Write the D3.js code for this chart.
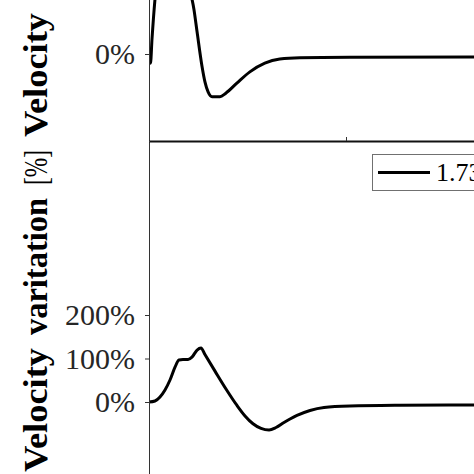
<html>
<script src="https://d3js.org/d3.v7.min.js"></script>
<style>
  body { margin: 0; background: white; }
  text { font-family: "Liberation Serif", serif; }
</style>
<body>
<svg width="474" height="474"></svg>
<script>
// time values (fraction of the cycle) and velocity variation in %
var tTop   = [0, 0.0038, 0.0076, 0.0152, 0.0279, 0.0482, 0.0685, 0.0888, 0.104, 0.114, 0.122, 0.1345, 0.142, 0.150, 0.160, 0.180, 0.195, 0.223, 0.256, 0.294, 0.332, 0.383, 0.510, 0.825, 1];
var vTop   = [-5, -21, 34, 126, 218, 287, 299, 241, 149, 103, 51, -28, -64, -87, -98, -98, -90, -67, -41, -21, -11.5, -8.5, -7.4, -6.9, -6.9];
var tBot   = [0, 0.0152, 0.0279, 0.0406, 0.0533, 0.066, 0.0761, 0.0863, 0.099, 0.109, 0.122, 0.132, 0.142, 0.1675, 0.1954, 0.2234, 0.2437, 0.264, 0.2843, 0.3046, 0.3223, 0.3426, 0.3579, 0.3756, 0.4086, 0.4442, 0.510, 0.637, 0.825, 1];
var vBot   = [0, 2.3, 11.5, 27.6, 50.6, 80, 96.5, 97.7, 97.7, 103, 119.5, 124, 109, 71, 30, -8, -32, -50, -60.7, -64.4, -58.6, -47.1, -39.1, -31, -19.5, -12.6, -9.2, -7.6, -6.9, -6.9];
var topTicks = [0];
var botTicks = [0, 100, 200];
var xTicks = [0.5];
var legendLabel = "1.73 m/s";
var labelWords = ["Velocity", "varitation"];

var svg = d3.select("svg");
var left = 149, split = 141;

var xs = d3.scaleLinear().domain([0, 1]).range([left, left + 394]);
var yTop = d3.scaleLinear().domain([-200, 200]).range([split, -33]);
var yBot = d3.scaleLinear().domain([-200, 600]).range([489, split]);

// clip areas for each panel
var defs = svg.append("defs");
defs.append("clipPath").attr("id", "clipTop").append("rect")
  .attr("x", left).attr("y", -50).attr("width", 400).attr("height", split + 50);
defs.append("clipPath").attr("id", "clipBot").append("rect")
  .attr("x", left).attr("y", split).attr("width", 400).attr("height", 400);

var topData = tTop.map(function(t, i) { return [t, vTop[i]]; });
var botData = tBot.map(function(t, i) { return [t, vBot[i]]; });

svg.append("path")
  .datum(topData)
  .attr("clip-path", "url(#clipTop)")
  .attr("d", d3.line().curve(d3.curveMonotoneX)
    .x(function(d) { return xs(d[0]); })
    .y(function(d) { return yTop(d[1]); }))
  .attr("fill", "none").attr("stroke", "black").attr("stroke-width", 3);

svg.append("path")
  .datum(botData)
  .attr("clip-path", "url(#clipBot)")
  .attr("d", d3.line().curve(d3.curveMonotoneX)
    .x(function(d) { return xs(d[0]); })
    .y(function(d) { return yBot(d[1]); }))
  .attr("fill", "none").attr("stroke", "black").attr("stroke-width", 3);

// axes
function styleAxis(g) {
  g.selectAll("path").attr("stroke", "#333");
  g.selectAll("line").attr("stroke", "#333");
  g.selectAll("text")
    .style("font-family", "'Liberation Serif', serif")
    .style("font-size", "30px")
    .attr("fill", "#262626");
}

svg.append("g")
  .attr("transform", "translate(" + left + ",0)")
  .call(d3.axisLeft(yTop).tickValues(topTicks).tickSize(4).tickSizeOuter(0).tickPadding(10)
    .tickFormat(function(d) { return d + "%"; }))
  .call(styleAxis);

svg.append("g")
  .attr("transform", "translate(" + left + ",0)")
  .call(d3.axisLeft(yBot).tickValues(botTicks).tickSize(4).tickSizeOuter(0).tickPadding(10)
    .tickFormat(function(d) { return d + "%"; }))
  .call(styleAxis);

var xg = svg.append("g")
  .attr("transform", "translate(0," + split + ")")
  .call(d3.axisTop(xs).tickValues(xTicks).tickSize(4).tickSizeOuter(0).tickFormat(""));
xg.selectAll("path").attr("stroke", "#111").attr("stroke-width", 2);
xg.selectAll("line").attr("stroke", "#333");

// y labels, rotated; words stretched to the width of the original bold serif
function addYLabel(yStart) {
  var g = svg.append("g")
    .attr("transform", "translate(47," + yStart + ") rotate(-90)");
  g.append("text")
    .style("font-size", "33px").attr("font-weight", "bold").attr("fill", "black")
    .attr("textLength", 124).attr("lengthAdjust", "spacingAndGlyphs")
    .text(labelWords[0]);
  g.append("text")
    .attr("x", 137)
    .style("font-size", "33px").attr("font-weight", "bold").attr("fill", "black")
    .attr("textLength", 137).attr("lengthAdjust", "spacingAndGlyphs")
    .text(labelWords[1]);
  g.append("text")
    .attr("x", 287)
    .style("font-size", "33px").attr("fill", "black")
    .attr("textLength", 35).attr("lengthAdjust", "spacingAndGlyphs")
    .text("[%]");
}
addYLabel(472);
addYLabel(137);

// legend
var lg = svg.append("g");
lg.append("rect")
  .attr("x", 372.5).attr("y", 154.5).attr("width", 200).attr("height", 36)
  .attr("fill", "white").attr("stroke", "#707070").attr("stroke-width", 1);
lg.append("line")
  .attr("x1", 378).attr("x2", 430).attr("y1", 172.5).attr("y2", 172.5)
  .attr("stroke", "black").attr("stroke-width", 3);
lg.append("text")
  .attr("x", 436).attr("y", 181)
  .style("font-size", "26px")
  .attr("fill", "black")
  .text(legendLabel);
</script>
</body>
</html>
